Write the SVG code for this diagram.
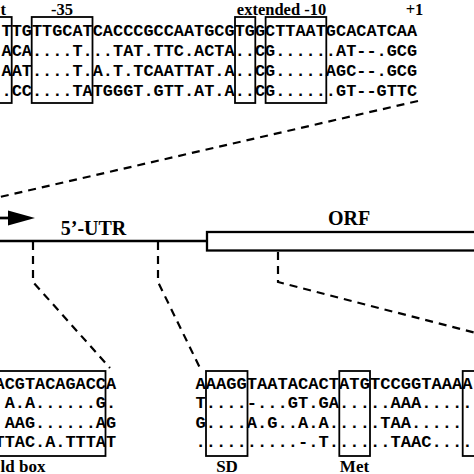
<svg xmlns="http://www.w3.org/2000/svg" width="474" height="474" viewBox="0 0 474 474">
<style>
.seq{font-family:"Liberation Mono","Courier New",monospace;font-weight:bold;fill:#000}
.top{font-size:16.9px}
.bl{font-size:16.9px}
.br{font-size:17.1px}
.lab{font-family:"Liberation Serif","Times New Roman",serif;font-weight:bold;fill:#000}
.box{fill:none;stroke:#000;stroke-width:1.8}
.dash{fill:none;stroke:#000;stroke-width:2.2;stroke-dasharray:8 6}
</style>
<rect width="474" height="474" fill="#fff"/>

<g id="promoter-alignment">
  <rect class="box" x="-5" y="17" width="16.7" height="86"/>
  <rect class="box" x="31.7" y="17" width="60.8" height="86"/>
  <rect class="box" x="235" y="17" width="20.3" height="86"/>
  <rect class="box" x="265.6" y="17" width="60.7" height="86"/>
  <text class="lab" x="0.5" y="14.8" font-size="16.5">t</text>
  <text class="lab" x="62" y="14.8" font-size="16.5" text-anchor="middle">-35</text>
  <text class="lab" x="281.5" y="14.8" font-size="16.5" text-anchor="middle">extended -10</text>
  <text class="lab" x="414.5" y="14.8" font-size="16.5" text-anchor="middle">+1</text>
  <text class="seq top" x="1.5" y="35.5">TTGTTGCATCACCCGCCAATGCGTGGCTTAATGCACATCAA</text>
  <text class="seq top" x="1.5" y="55.7">ACA....T...TAT.TTC.ACTA..CG......AT--.GCG</text>
  <text class="seq top" x="1.5" y="75.9">AAT....T.A.T.TCAATTAT.A..CG.....AGC--.GCG</text>
  <text class="seq top" x="1.5" y="96.1">.CC....TATGGGT.GTT.AT.A..CG......GT--GTTC</text>
</g>

<g id="gene-map">
  <line x1="0" y1="218" x2="12" y2="218" stroke="#000" stroke-width="2.7"/>
  <polygon points="8,210.5 35,218 8,225.5" fill="#000"/>
  <line x1="0" y1="241" x2="207" y2="241" stroke="#000" stroke-width="2.4"/>
  <text class="lab" x="93.5" y="235" font-size="20" text-anchor="middle">5’-UTR</text>
</g>

<g id="orf">
  <rect x="207" y="232" width="280" height="18.5" fill="#fff" stroke="#000" stroke-width="2.3"/>
  <text class="lab" x="349" y="225" font-size="20" text-anchor="middle">ORF</text>
</g>

<g id="box-alignment">
  <rect class="box" x="-5" y="371" width="110.5" height="85"/>
  <text class="seq bl" x="-5.5" y="389">ACGTACAGACCA</text>
  <text class="seq bl" x="4.65" y="408">A.A......G.</text>
  <text class="seq bl" x="4.65" y="427.5">AAG......AG</text>
  <text class="seq bl" x="-5.5" y="446.5">TTAC.A.TTTAT</text>
  <text class="lab" x="0.5" y="471.5" font-size="17">ld box</text>
</g>

<g id="sd-alignment">
  <rect class="box" x="206" y="371" width="41.5" height="85"/>
  <rect class="box" x="339.3" y="371" width="30.7" height="85"/>
  <rect class="box" x="462.7" y="371" width="20" height="85"/>
  <text class="seq br" x="195.5" y="389">AAAGGTAATACACTATGTCCGGTAAAA</text>
  <text class="seq br" x="195.5" y="408">T....-...GT.GA.....AAA.....</text>
  <text class="seq br" x="195.5" y="427.5">G....A.G..A.A.....TAA.....</text>
  <text class="seq br" x="195.5" y="446.5">..........-.T......TAAC....</text>
  <text class="lab" x="227" y="471.5" font-size="17" text-anchor="middle">SD</text>
  <text class="lab" x="354.5" y="471.5" font-size="17" text-anchor="middle">Met</text>
</g>

<g id="connectors">
  <line class="dash" x1="418" y1="101" x2="0" y2="197"/>
  <polyline class="dash" points="33,242 33,282 110,368"/>
  <polyline class="dash" points="158,242 158,282 200,368"/>
  <polyline class="dash" points="278,252 278,282 474,332.5"/>
</g>
</svg>
